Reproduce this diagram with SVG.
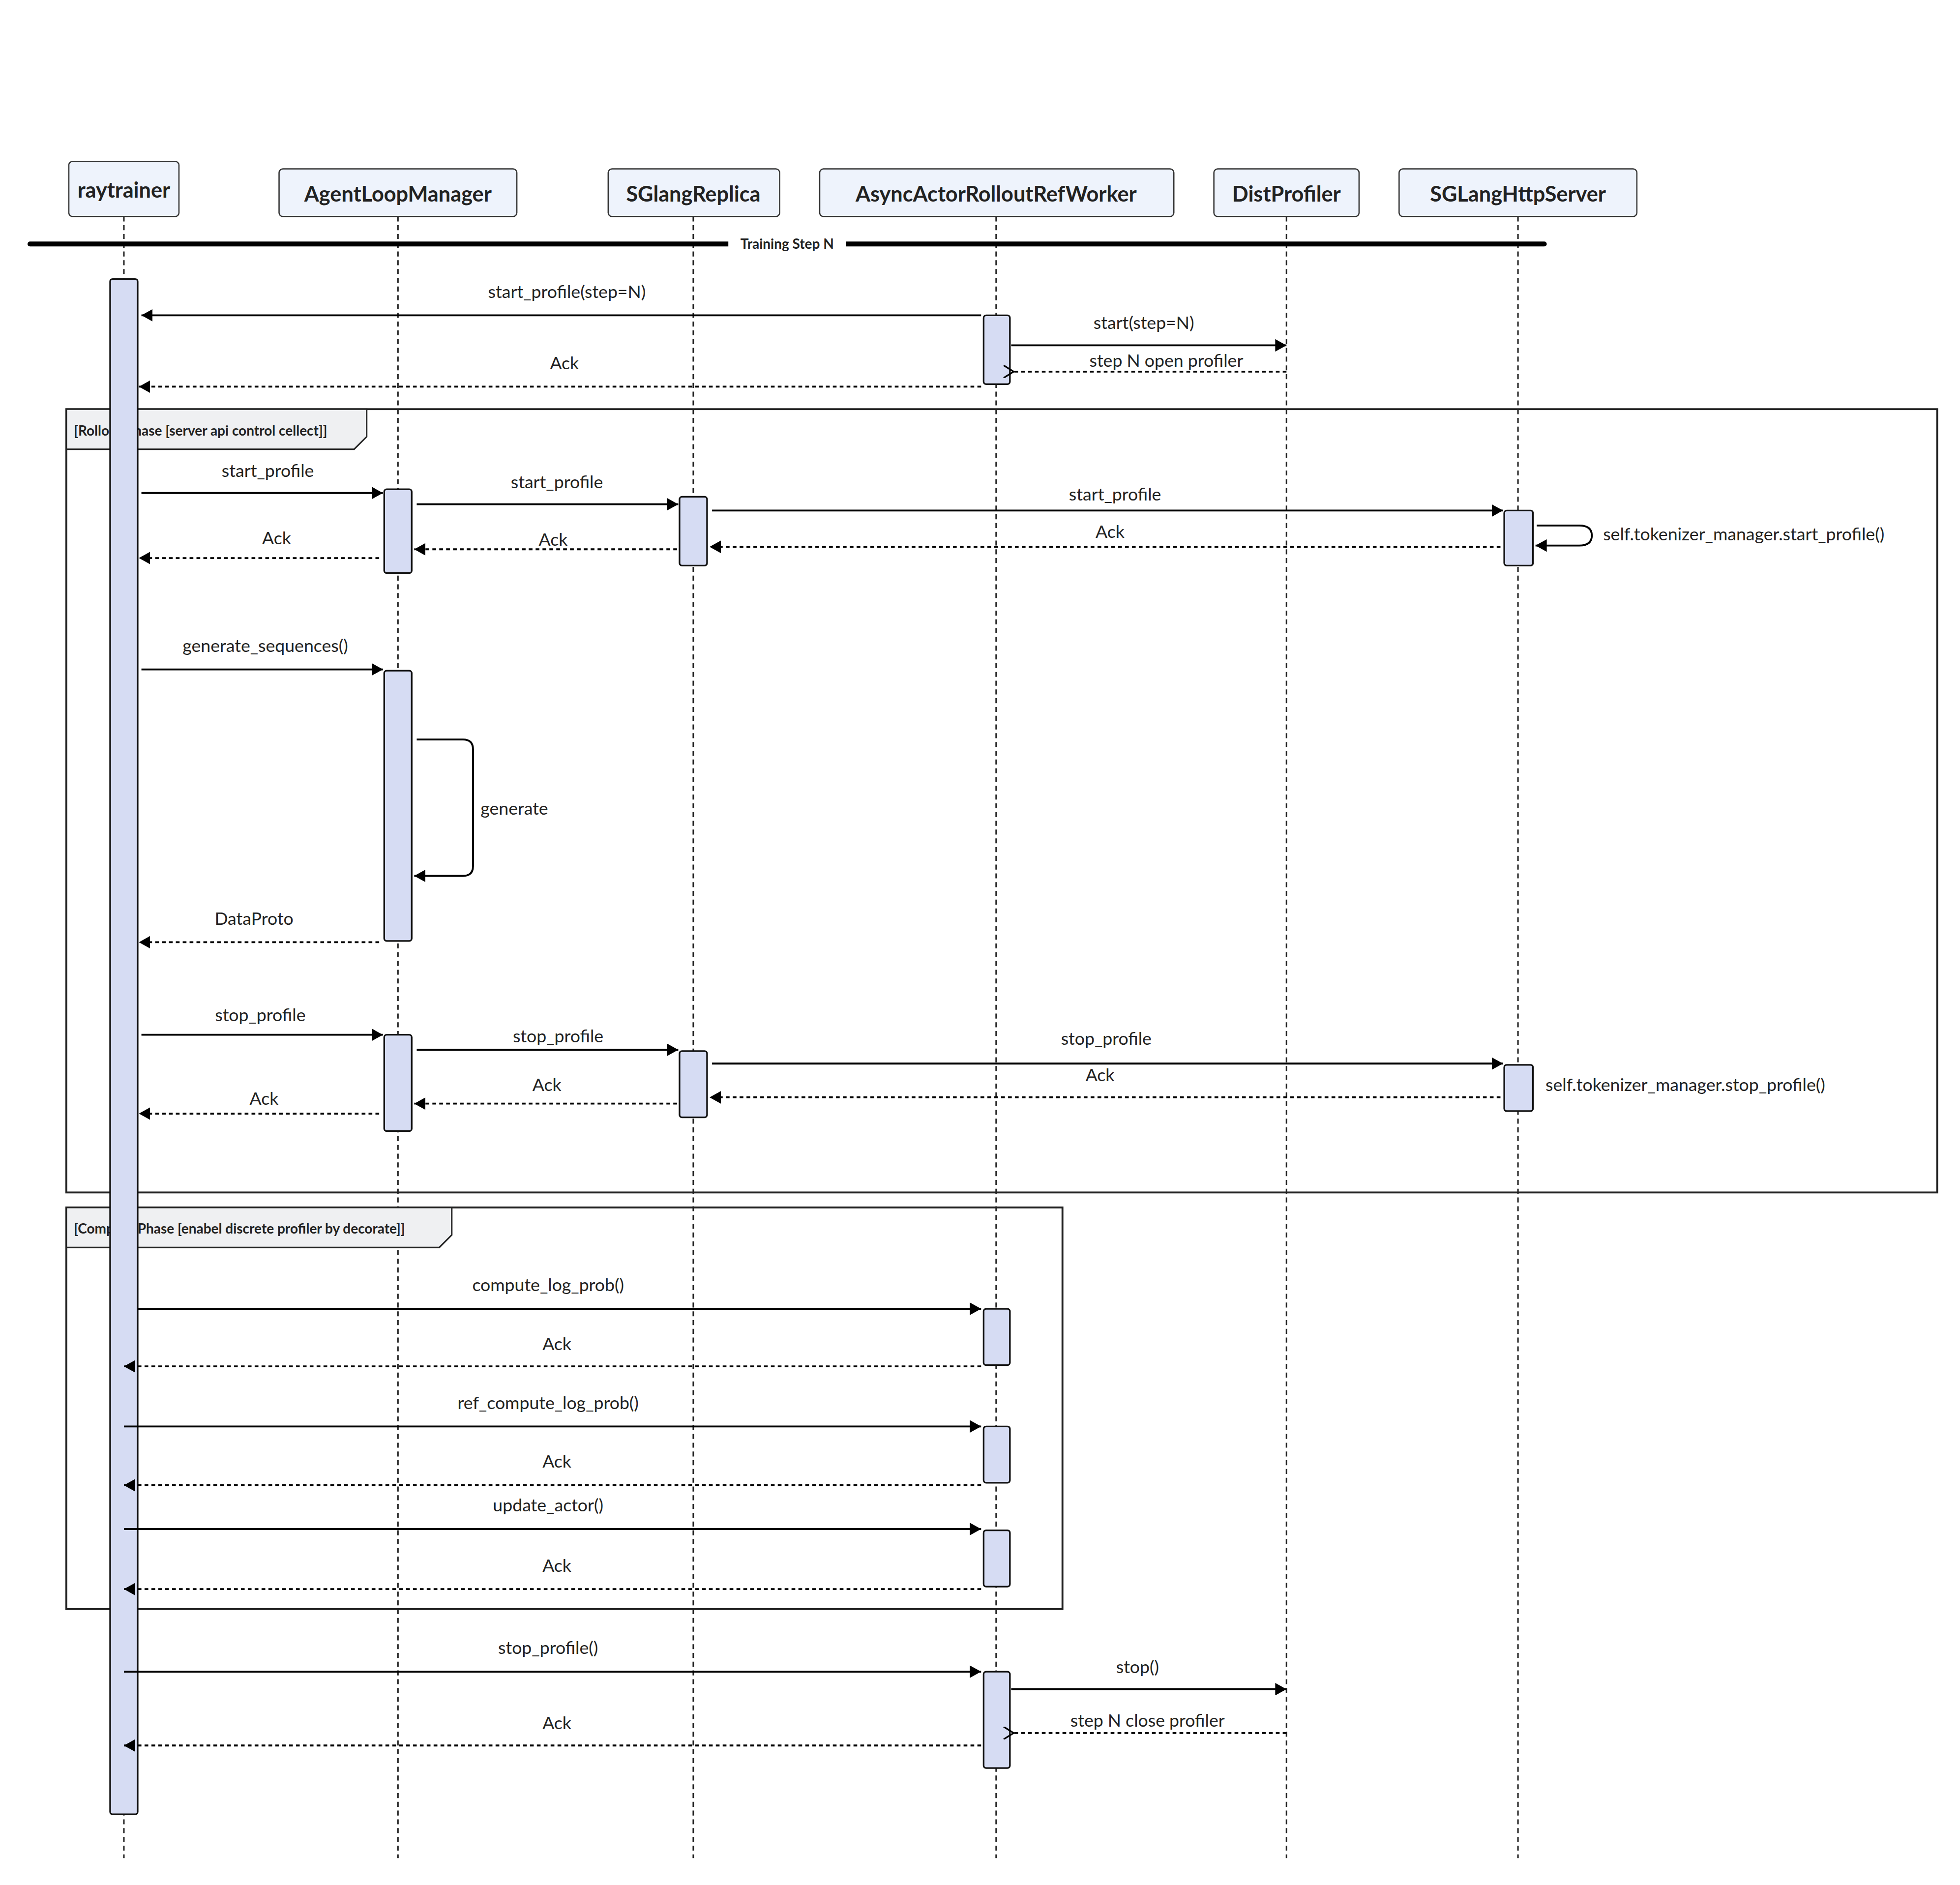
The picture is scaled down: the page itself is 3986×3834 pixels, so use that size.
<svg xmlns="http://www.w3.org/2000/svg" width="3986" height="3834" viewBox="0 0 3986 3834">
<style>
.hd{fill:#eef3fc;stroke:#333;stroke-width:1}
.ht{font-family:Lato,"Noto Sans",sans-serif;font-weight:bold;font-size:17px;fill:#222;text-anchor:middle}
.ll{stroke:#222;stroke-width:1.2;stroke-dasharray:4 3;fill:none}
.act{fill:#d6dcf3;stroke:#111;stroke-width:1.3}
.m{stroke:#000;stroke-width:1.5;fill:none}
.d{stroke:#000;stroke-width:1.5;fill:none;stroke-dasharray:3 2.5}
.t{font-family:Lato,"Noto Sans",sans-serif;font-size:14px;fill:#222;text-anchor:middle}
.tl{font-family:Lato,"Noto Sans",sans-serif;font-size:14px;fill:#222}
.fr{fill:none;stroke:#222;stroke-width:1.5}
.tab{fill:#eff0f2;stroke:#222;stroke-width:1.2}
.tt{font-family:Lato,"Noto Sans",sans-serif;font-size:11px;font-weight:bold;fill:#222}
</style>
<defs>
<marker id="a" markerWidth="10" markerHeight="10" refX="9" refY="5" orient="auto" markerUnits="userSpaceOnUse"><path d="M0,0 L9,5 L0,10 z" fill="#000"/></marker>
<marker id="o" markerWidth="10" markerHeight="10" refX="1" refY="5" orient="auto" markerUnits="userSpaceOnUse"><path d="M9,0 L1,5 L9,10" fill="none" stroke="#000" stroke-width="1.3"/></marker>
</defs>
<rect width="3986" height="3834" fill="#fff"/>
<g transform="scale(2.545)">
<g id="lifelines">
<path class="ll" d="M99,173V1485M318,173V1485M554,173V1485M796,173V1485M1028,173V1485M1213,173V1485"/>
</g>
<g id="frames">
<rect class="fr" x="53" y="327" width="1495" height="626"/>
<path class="tab" d="M53,327H293V349L283,359H53Z"/>
<text class="tt" x="59" y="348">[Rollout Phase [server api control cellect]]</text>
<rect class="fr" x="53" y="965" width="796" height="321"/>
<path class="tab" d="M53,965H361V987L351,997H53Z"/>
<text class="tt" x="59" y="986">[Compute Phase [enabel discrete profiler by decorate]]</text>
</g>
<g id="divider">
<line x1="24" y1="195" x2="1234" y2="195" stroke="#000" stroke-width="4" stroke-linecap="round"/>
<rect x="582" y="188" width="94" height="14" fill="#fff"/>
<text class="tt" x="629" y="199" text-anchor="middle">Training Step N</text>
</g>
<g id="raytrainer"><rect class="hd" x="55" y="129" width="88" height="44" rx="3"/><text class="ht" x="99" y="158">raytrainer</text></g>
<g id="AgentLoopManager"><rect class="hd" x="223" y="135" width="190" height="38" rx="3"/><text class="ht" x="318" y="161">AgentLoopManager</text></g>
<g id="SGlangReplica"><rect class="hd" x="486" y="135" width="137" height="38" rx="3"/><text class="ht" x="554" y="161">SGlangReplica</text></g>
<g id="AsyncActorRolloutRefWorker"><rect class="hd" x="655" y="135" width="283" height="38" rx="3"/><text class="ht" x="796" y="161">AsyncActorRolloutRefWorker</text></g>
<g id="DistProfiler"><rect class="hd" x="970" y="135" width="116" height="38" rx="3"/><text class="ht" x="1028" y="161">DistProfiler</text></g>
<g id="SGLangHttpServer"><rect class="hd" x="1118" y="135" width="190" height="38" rx="3"/><text class="ht" x="1213" y="161">SGLangHttpServer</text></g>
<g id="activations">
<rect class="act" x="88" y="223" width="22" height="1227" rx="2"/>
<rect class="act" x="786" y="252" width="21" height="55" rx="2"/>
<rect class="act" x="307" y="391" width="22" height="67" rx="2"/>
<rect class="act" x="543" y="397" width="22" height="55" rx="2"/>
<rect class="act" x="1202" y="408" width="23" height="44" rx="2"/>
<rect class="act" x="307" y="536" width="22" height="216" rx="2"/>
<rect class="act" x="307" y="827" width="22" height="77" rx="2"/>
<rect class="act" x="543" y="840" width="22" height="53" rx="2"/>
<rect class="act" x="1202" y="851" width="23" height="37" rx="2"/>
<rect class="act" x="786" y="1046" width="21" height="45" rx="2"/>
<rect class="act" x="786" y="1140" width="21" height="45" rx="2"/>
<rect class="act" x="786" y="1223" width="21" height="45" rx="2"/>
<rect class="act" x="786" y="1336" width="21" height="77" rx="2"/>
</g>
<g id="connectors">
<line class="m" x1="784" y1="252" x2="113" y2="252" marker-end="url(#a)"/>
<line class="m" x1="808" y1="276" x2="1028" y2="276" marker-end="url(#a)"/>
<line class="d" x1="1028" y1="297" x2="810" y2="297" marker-end="url(#o)"/>
<line class="d" x1="784" y1="309" x2="111" y2="309" marker-end="url(#a)"/>
<line class="m" x1="113" y1="394" x2="306" y2="394" marker-end="url(#a)"/>
<line class="m" x1="333" y1="403" x2="542" y2="403" marker-end="url(#a)"/>
<line class="m" x1="569" y1="408" x2="1201" y2="408" marker-end="url(#a)"/>
<path class="m" d="M1228,420H1262Q1272,420 1272,428Q1272,436 1262,436H1227" marker-end="url(#a)"/>
<line class="d" x1="1199" y1="437" x2="567" y2="437" marker-end="url(#a)"/>
<line class="d" x1="541" y1="439" x2="331" y2="439" marker-end="url(#a)"/>
<line class="d" x1="303" y1="446" x2="111" y2="446" marker-end="url(#a)"/>
<line class="m" x1="113" y1="535" x2="306" y2="535" marker-end="url(#a)"/>
<path class="m" d="M333,591H370Q378,591 378,599V692Q378,700 370,700H331" marker-end="url(#a)"/>
<line class="d" x1="303" y1="753" x2="111" y2="753" marker-end="url(#a)"/>
<line class="m" x1="113" y1="827" x2="306" y2="827" marker-end="url(#a)"/>
<line class="m" x1="333" y1="839" x2="542" y2="839" marker-end="url(#a)"/>
<line class="m" x1="569" y1="850" x2="1201" y2="850" marker-end="url(#a)"/>
<line class="d" x1="1199" y1="877" x2="567" y2="877" marker-end="url(#a)"/>
<line class="d" x1="541" y1="882" x2="331" y2="882" marker-end="url(#a)"/>
<line class="d" x1="303" y1="890" x2="111" y2="890" marker-end="url(#a)"/>
<line class="m" x1="110" y1="1046" x2="784" y2="1046" marker-end="url(#a)"/>
<line class="d" x1="784" y1="1092" x2="99" y2="1092" marker-end="url(#a)"/>
<line class="m" x1="99" y1="1140" x2="784" y2="1140" marker-end="url(#a)"/>
<line class="d" x1="784" y1="1187" x2="99" y2="1187" marker-end="url(#a)"/>
<line class="m" x1="99" y1="1222" x2="784" y2="1222" marker-end="url(#a)"/>
<line class="d" x1="784" y1="1270" x2="99" y2="1270" marker-end="url(#a)"/>
<line class="m" x1="99" y1="1336" x2="784" y2="1336" marker-end="url(#a)"/>
<line class="m" x1="808" y1="1350" x2="1028" y2="1350" marker-end="url(#a)"/>
<line class="d" x1="1028" y1="1385" x2="810" y2="1385" marker-end="url(#o)"/>
<line class="d" x1="784" y1="1395" x2="99" y2="1395" marker-end="url(#a)"/>
</g>
<g id="labels">
<text class="t" x="453" y="238">start_profile(step=N)</text>
<text class="t" x="914" y="263">start(step=N)</text>
<text class="t" x="932" y="293">step N open profiler</text>
<text class="t" x="451" y="295">Ack</text>
<text class="t" x="214" y="381">start_profile</text>
<text class="t" x="445" y="390">start_profile</text>
<text class="t" x="891" y="400">start_profile</text>
<text class="tl" x="1281" y="432">self.tokenizer_manager.start_profile()</text>
<text class="t" x="887" y="430">Ack</text>
<text class="t" x="442" y="436">Ack</text>
<text class="t" x="221" y="435">Ack</text>
<text class="t" x="212" y="521">generate_sequences()</text>
<text class="tl" x="384" y="651">generate</text>
<text class="t" x="203" y="739">DataProto</text>
<text class="t" x="208" y="816">stop_profile</text>
<text class="t" x="446" y="833">stop_profile</text>
<text class="t" x="884" y="835">stop_profile</text>
<text class="tl" x="1235" y="872">self.tokenizer_manager.stop_profile()</text>
<text class="t" x="879" y="864">Ack</text>
<text class="t" x="437" y="872">Ack</text>
<text class="t" x="211" y="883">Ack</text>
<text class="t" x="438" y="1032">compute_log_prob()</text>
<text class="t" x="445" y="1079">Ack</text>
<text class="t" x="438" y="1126">ref_compute_log_prob()</text>
<text class="t" x="445" y="1173">Ack</text>
<text class="t" x="438" y="1208">update_actor()</text>
<text class="t" x="445" y="1256">Ack</text>
<text class="t" x="438" y="1322">stop_profile()</text>
<text class="t" x="909" y="1337">stop()</text>
<text class="t" x="917" y="1380">step N close profiler</text>
<text class="t" x="445" y="1382">Ack</text>
</g>
</g>
</svg>
